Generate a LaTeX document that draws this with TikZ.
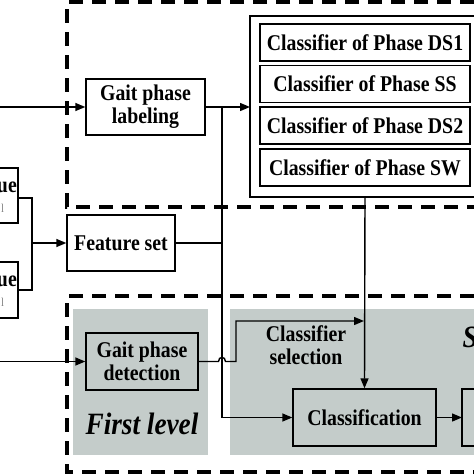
\documentclass[tikz,border=0pt]{standalone}
\usepackage{fontspec}
\setmainfont[FakeStretch=0.88]{Liberation Serif}
\usetikzlibrary{arrows.meta}
\definecolor{panelgray}{RGB}{196,204,202}
\begin{document}
\begin{tikzpicture}[x=1pt,y=-1pt,
  line width=1.4pt,
  box/.style={draw,rectangle,inner sep=0pt,align=center,font=\fontsize{22.5}{23}\selectfont\bfseries},
  lbl/.style={inner sep=0pt,align=center,font=\fontsize{22.5}{23}\selectfont\bfseries},
  dashbox/.style={line width=3.6pt,dash pattern=on 14pt off 9pt},
  arr/.style={-{Triangle[length=10pt,width=8pt]}}]
\useasboundingbox (0,0) rectangle (474,474);
% gray panels
\fill[panelgray] (73,309) rectangle (208,455);
\fill[panelgray] (230,309) rectangle (474,455);
% dashed frames
\draw[dashbox] (474,2) -- (67,2) -- (67,207) -- (474,207);
\draw[dashbox] (474,296) -- (67,296) -- (67,472) -- (474,472);
% left cropped boxes
\draw (-2,168) -- (18,168) -- (18,223) -- (-2,223);
\draw (-2,262) -- (18,262) -- (18,318) -- (-2,318);
\node[lbl,anchor=east] (ue1) at (17.5,187) {ue};
\node[lbl,anchor=east] (ue2) at (17.5,281) {ue};
\node[inner sep=0pt,text=gray,font=\fontsize{12}{12}\selectfont] (s1) at (2.5,208) {l};
\node[inner sep=0pt,text=gray,font=\fontsize{12}{12}\selectfont] (s2) at (2.5,302) {l};
\coordinate (u1) at (18,198);
\coordinate (u2) at (18,290);
\coordinate (jn) at (32,243);
% nodes
\node[box,minimum width=119pt,minimum height=56pt] (gpl) at (145.5,107) {Gait phase\\labeling};
\draw (474,16) -- (250,16) -- (250,197) -- (474,197);
\coordinate (cgL) at (250,107);
\coordinate (cgB) at (365,197);
\node[box,minimum width=210pt,minimum height=37pt] (c1) at (365,42.5) {Classifier of Phase DS1};
\node[box,minimum width=210pt,minimum height=37pt] (c2) at (365,84) {Classifier of Phase SS};
\node[box,minimum width=210pt,minimum height=37pt] (c3) at (365,125.5) {Classifier of Phase DS2};
\node[box,minimum width=210pt,minimum height=37pt] (c4) at (365,167.5) {Classifier of Phase SW};
\node[box,minimum width=108pt,minimum height=56pt] (fs) at (121,243) {Feature set};
\node[box,minimum width=112pt,minimum height=57pt] (gpd) at (142,361.5) {Gait phase\\detection};
\node[box,minimum width=143pt,minimum height=57pt] (cls) at (364.5,417.5) {Classification};
\draw (474,389) -- (462,389) -- (462,446) -- (474,446);
\coordinate (nx) at (462,417.5);
% labels
\node[lbl] (csel) at (306,345) {Classifier\\selection};
\node[inner sep=0pt,font=\fontsize{31}{31}\selectfont\bfseries\itshape] (fl) at (142,424) {First level};
\node[inner sep=0pt,anchor=west,font=\fontsize{31}{31}\selectfont\bfseries\itshape] (sl) at (462,337) {S};
% connectors
\coordinate (in1) at (0,107);
\coordinate (in2) at (0,361.5);
\draw[arr] (in1) -- (gpl.west);
\draw[arr] (gpl.east) -- (cgL);
\coordinate (vt) at (222,107);
\coordinate (vb) at (222,417.5);
\draw (vt) -- (vb);
\draw[arr] (vb) -- (cls.west);
\draw (fs.east) -- (222,243);
\draw (u1) -- (32,198) -- (32,290) -- (u2);
\draw[arr] (jn) -- (fs.west);
\draw[arr] (in2) -- (gpd.west);
\coordinate (selend) at (364,321);
\draw[arr] (gpd.east) -- (218.5,361.5) .. controls (218.5,356) and (225.5,356) .. (225.5,361.5) -- (236,361.5) -- (236,321) -- (selend);
\draw[arr] (cgB) -- (cls.north);
\draw[arr] (cls.east) -- (nx);
\end{tikzpicture}
\end{document}
